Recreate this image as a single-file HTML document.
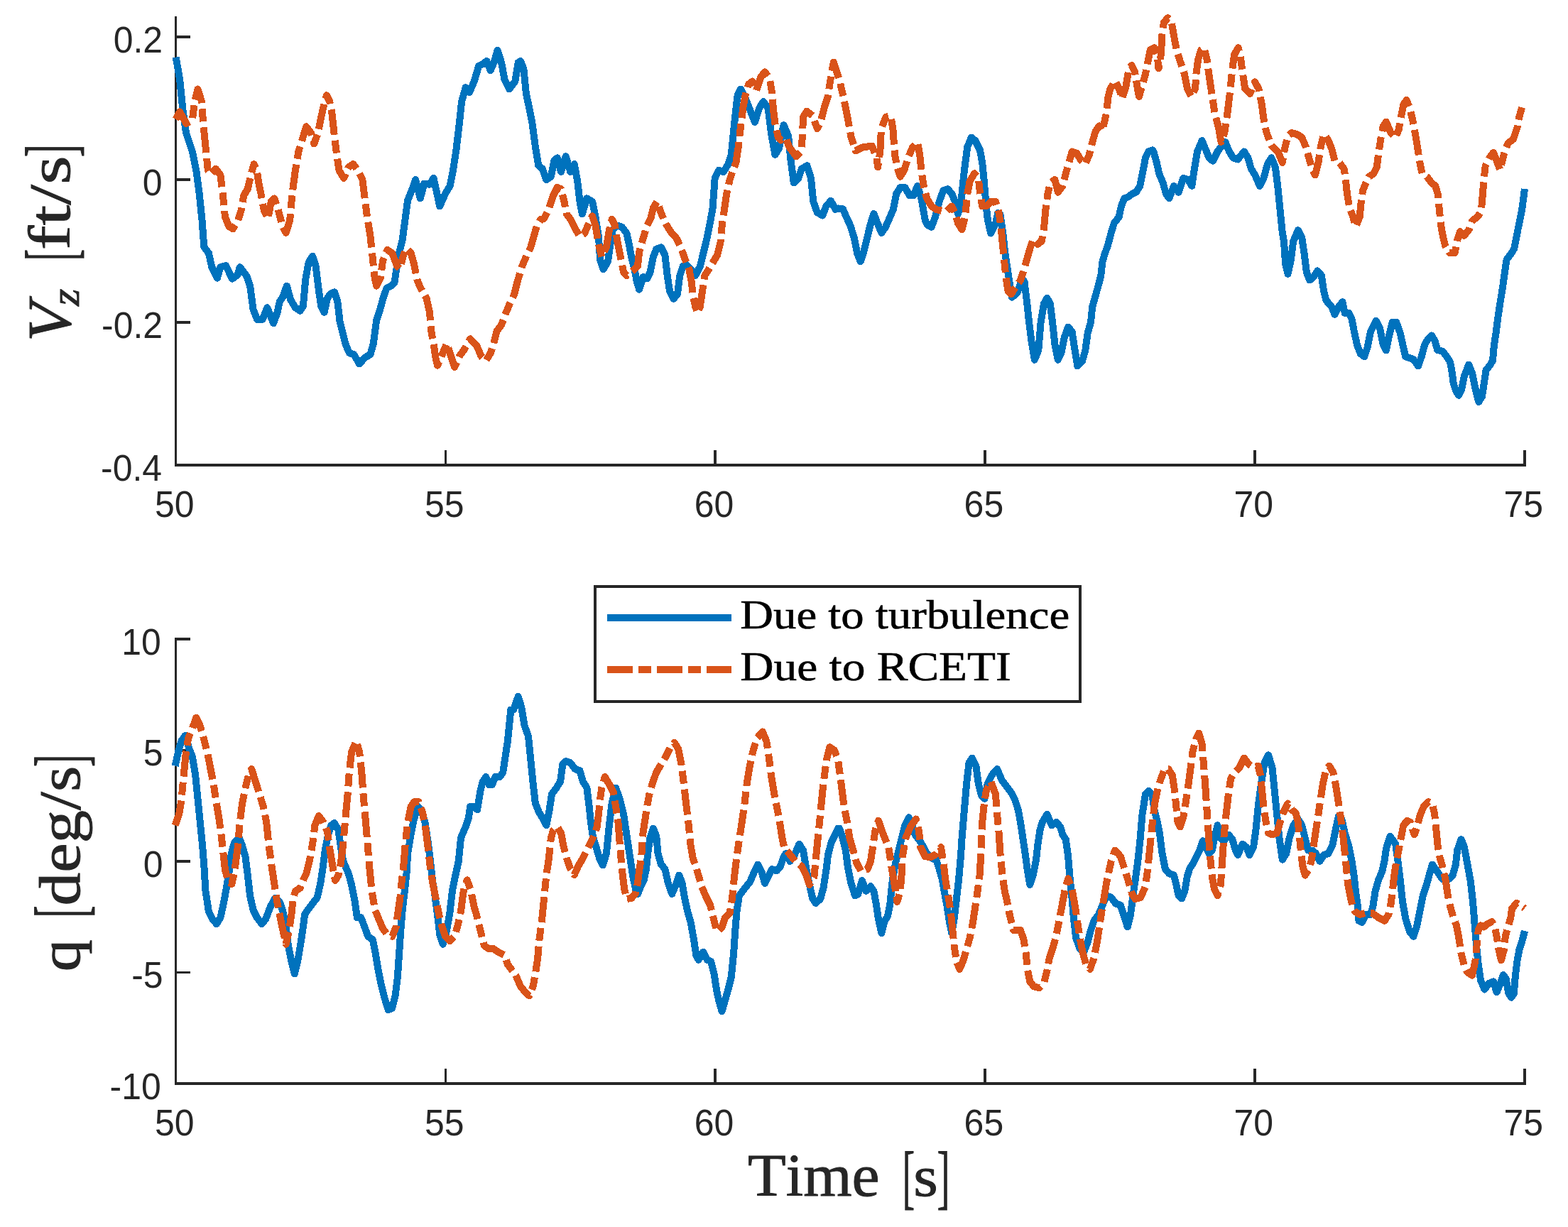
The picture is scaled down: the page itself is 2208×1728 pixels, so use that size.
<!DOCTYPE html><html><head><meta charset="utf-8"><style>html,body{margin:0;padding:0;background:#fff;}svg{display:block;}</style></head><body><svg xmlns="http://www.w3.org/2000/svg" width="2208" height="1728" viewBox="0 0 2208 1728" style="font-kerning:none">
<rect width="2208" height="1728" fill="#fff"/>
<path d="M247.5 23.1V657.0" stroke="#262626" stroke-width="3" shape-rendering="crispEdges"/>
<path d="M246.0 655.0H2148.9" stroke="#262626" stroke-width="4" shape-rendering="crispEdges"/>
<path d="M627.4 655.0V634.0M1007.3 655.0V634.0M1387.2 655.0V634.0M1767.1 655.0V634.0M2147.0 655.0V634.0M247.5 52.0H268.0M247.5 253.0H268.0M247.5 454.0H268.0M247.5 655.0H268.0" stroke="#262626" stroke-width="3.8" shape-rendering="crispEdges"/>
<path d="M247.5 898.2V1528.0" stroke="#262626" stroke-width="3" shape-rendering="crispEdges"/>
<path d="M246.0 1526.0H2148.9" stroke="#262626" stroke-width="4" shape-rendering="crispEdges"/>
<path d="M627.4 1526.0V1505.0M1007.3 1526.0V1505.0M1387.2 1526.0V1505.0M1767.1 1526.0V1505.0M2147.0 1526.0V1505.0M247.5 900.1H268.0M247.5 1056.6H268.0M247.5 1213.0H268.0M247.5 1369.5H268.0M247.5 1526.0H268.0" stroke="#262626" stroke-width="3.8" shape-rendering="crispEdges"/>
<g fill="none" stroke-linejoin="round" stroke-width="10" shape-rendering="crispEdges">
<path d="M247.7 80.5L253.2 112.3L257.6 156.3L262.0 187.1L270.8 213.5L276.3 239.9L280.7 272.9L284.5 310.0L287.3 347.6L293.9 356.4L298.3 376.2L306.0 391.6L310.4 376.2L318.1 374.0L326.9 392.7L334.5 387.2L337.8 376.2L347.7 389.4L352.1 402.6L356.5 435.5L362.0 449.8L369.7 449.8L376.3 433.3L385.1 455.3L390.6 439.9L393.9 424.5L398.3 418.0L403.8 402.6L409.3 422.3L415.9 433.3L422.5 437.7L426.9 431.1L430.2 393.8L434.6 369.6L440.1 360.8L444.5 374.0L448.9 409.2L452.2 431.1L456.6 439.9L461.0 420.2L465.4 413.6L470.9 411.4L475.3 424.5L478.6 453.1L481.9 466.3L486.3 483.9L491.8 497.1L498.4 499.3L506.1 512.5L513.7 503.7L521.4 499.3L525.8 483.9L530.2 450.9L534.6 437.7L540.1 418.0L544.5 405.9L551.1 402.6L555.5 398.2L557.7 382.8L562.1 356.4L566.5 338.8L574.2 281.7L579.7 268.5L585.2 253.1L591.8 279.4L597.3 258.6L605.0 259.7L610.5 250.9L619.3 290.5L627.0 272.9L633.6 261.9L638.0 239.9L642.4 211.3L646.8 173.9L650.1 143.1L655.6 123.3L661.1 129.9L667.7 114.5L674.3 92.6L679.8 90.4L685.3 86.0L690.8 99.2L696.3 86.0L700.6 70.6L706.1 88.2L710.5 112.3L717.1 125.5L725.3 114.5L729.7 88.2L733.0 86.0L737.4 97.0L740.7 130.0L745.1 151.9L749.5 173.9L753.9 206.9L758.3 233.3L763.8 237.7L769.3 253.1L775.9 248.7L780.3 226.7L784.7 222.3L790.1 242.1L796.7 220.1L803.3 242.1L808.8 231.1L813.2 255.3L816.5 283.9L819.8 301.4L826.4 279.4L834.1 283.9L838.5 305.8L842.9 333.0L845.1 366.0L849.5 379.2L856.1 368.2L859.4 344.0L862.7 324.2L869.3 317.6L875.9 319.8L882.5 328.6L885.8 344.0L889.1 361.6L893.5 379.2L896.8 396.7L900.1 407.7L905.6 390.1L911.1 392.3L915.5 383.6L919.9 361.6L924.3 350.6L930.9 348.4L936.4 359.4L939.7 387.9L943.0 409.9L948.5 420.9L954.0 414.3L957.3 388.0L961.7 374.8L966.1 372.6L972.6 379.2L979.2 388.0L986.0 374.8L990.2 357.2L994.6 339.6L999.0 318.0L1003.4 295.0L1006.7 250.9L1012.2 239.9L1018.8 242.1L1025.4 231.1L1029.8 217.9L1032.0 195.9L1035.3 162.9L1038.6 134.3L1043.0 125.5L1049.6 138.7L1055.1 151.9L1062.8 171.9L1069.4 151.9L1074.9 143.1L1081.5 151.9L1085.9 187.1L1091.4 217.9L1096.9 209.1L1103.5 176.1L1110.1 191.5L1113.4 224.5L1117.8 257.5L1124.4 250.9L1128.8 237.7L1136.5 233.3L1142.0 250.9L1145.3 283.9L1150.7 299.2L1158.4 303.6L1163.3 290.4L1169.9 282.8L1176.5 294.9L1180.5 293.5L1186.9 294.3L1191.8 305.7L1197.4 317.6L1202.9 335.2L1207.3 357.2L1211.7 368.2L1216.1 355.0L1220.5 337.4L1226.0 315.0L1230.4 301.0L1235.9 315.0L1241.4 328.0L1246.9 320.0L1252.3 308.0L1257.8 294.9L1262.2 272.9L1267.7 264.1L1274.3 264.1L1280.9 275.1L1286.4 275.1L1291.9 261.9L1297.4 279.4L1302.9 311.0L1306.2 316.8L1311.7 319.8L1317.2 305.0L1322.7 283.9L1328.2 268.5L1334.8 266.3L1340.3 272.9L1344.7 283.9L1349.1 301.4L1353.5 283.9L1357.9 239.9L1362.3 206.9L1367.8 193.7L1373.3 198.1L1379.9 211.3L1383.2 228.9L1385.4 250.9L1388.7 290.0L1390.9 310.0L1395.3 328.6L1401.9 315.0L1405.2 300.0L1408.5 302.2L1412.9 333.0L1415.1 355.0L1418.4 377.0L1421.7 398.9L1425.0 418.7L1432.7 412.1L1439.2 392.3L1442.5 396.7L1445.8 423.1L1449.1 453.9L1452.4 480.3L1456.8 506.7L1462.3 493.5L1465.6 453.9L1470.0 427.5L1474.4 419.8L1478.8 427.5L1482.1 453.9L1485.4 484.7L1489.8 506.7L1494.2 497.9L1498.6 475.9L1504.1 460.5L1509.6 467.1L1512.9 489.1L1517.3 515.5L1523.9 508.9L1528.3 493.5L1531.6 469.3L1536.0 453.9L1538.2 431.9L1542.6 416.5L1547.0 401.1L1550.3 388.0L1552.5 368.2L1555.8 357.2L1560.2 345.0L1564.6 328.0L1569.0 314.0L1575.6 305.8L1578.9 290.4L1583.3 279.4L1588.8 277.3L1594.3 272.9L1599.8 270.7L1605.3 261.9L1609.7 239.9L1613.0 222.3L1617.3 213.5L1622.9 211.3L1624.4 213.5L1628.8 228.9L1632.1 244.3L1637.6 257.5L1642.0 272.9L1646.4 279.4L1653.0 261.9L1659.6 270.7L1666.2 250.9L1672.8 253.1L1678.3 261.9L1681.6 239.9L1686.0 213.5L1692.6 198.1L1698.1 211.3L1702.5 222.3L1708.0 226.7L1714.5 213.5L1721.1 204.7L1725.5 200.3L1731.0 213.5L1736.5 222.3L1743.1 224.5L1751.9 213.5L1757.4 222.3L1761.8 237.7L1767.3 246.5L1773.9 261.9L1779.4 250.9L1784.9 231.1L1790.4 222.3L1795.9 235.5L1799.2 261.9L1802.5 294.9L1805.8 327.8L1808.0 340.0L1810.2 372.6L1813.5 385.8L1817.9 366.0L1821.2 339.6L1827.8 324.2L1833.3 335.2L1836.6 357.2L1839.9 383.6L1844.3 394.5L1849.8 390.1L1855.3 381.4L1860.8 388.0L1864.1 409.9L1867.4 423.1L1875.1 431.9L1879.5 442.9L1885.0 431.9L1890.4 425.3L1893.7 440.7L1899.2 440.7L1903.6 449.5L1906.9 467.1L1911.3 486.9L1915.7 497.9L1921.2 502.3L1925.6 489.1L1930.0 467.1L1937.7 451.7L1943.2 462.7L1947.6 484.7L1952.0 493.5L1956.4 471.5L1960.8 453.9L1966.3 453.9L1971.8 469.3L1975.0 484.0L1979.2 502.3L1984.9 504.2L1990.5 506.1L1997.0 515.5L2001.7 502.3L2005.5 487.4L2009.2 479.9L2015.8 472.4L2020.5 479.9L2024.2 493.0L2031.7 494.8L2037.3 502.3L2042.0 509.8L2044.8 524.8L2046.7 539.8L2050.4 551.1L2054.2 556.7L2057.9 549.2L2061.7 530.4L2068.2 513.6L2072.9 524.8L2076.7 543.6L2082.3 566.0L2087.0 558.5L2089.8 539.8L2092.6 521.1L2097.3 515.5L2102.0 508.0L2103.8 487.4L2106.6 468.6L2109.5 446.1L2112.3 427.4L2116.0 404.9L2118.8 384.3L2121.6 365.6L2127.3 358.1L2132.0 350.6L2134.7 337.5L2137.6 322.5L2140.4 309.4L2143.2 295.0L2147.0 266.0" stroke="#0072BD"/><path d="M247.5 168.0L253.2 157.4L262.0 173.9L270.8 169.5L274.1 143.1L278.5 125.5L284.0 143.1L286.2 173.9L289.5 206.9L292.8 239.9L297.2 245.4L303.8 237.7L310.4 246.5L313.7 272.9L317.0 305.8L322.5 319.0L327.9 322.3L334.5 312.4L340.0 294.9L343.3 275.1L348.8 266.3L353.2 246.5L357.6 231.1L362.0 242.1L364.2 257.5L367.5 272.9L371.9 297.0L377.4 308.0L381.8 283.9L386.2 279.4L391.7 294.9L397.2 316.8L402.7 327.8L408.2 310.2L411.5 272.9L415.9 239.9L420.3 213.5L425.8 195.9L431.3 178.3L437.9 187.1L442.3 202.5L447.8 187.1L452.2 165.1L456.6 145.3L459.9 134.3L464.3 143.1L467.6 160.7L470.9 191.5L474.2 217.9L477.5 239.9L484.1 250.9L490.7 235.5L497.3 231.1L503.9 239.9L510.4 253.1L513.7 279.4L517.0 305.8L521.4 332.2L523.6 352.0L525.8 374.0L528.0 393.8L530.2 402.6L535.7 391.6L539.0 367.4L545.6 352.0L552.2 356.4L558.8 374.0L563.2 378.4L567.6 360.8L572.0 349.8L578.6 356.4L583.0 371.8L587.4 393.8L591.8 404.8L600.6 420.2L605.0 439.9L607.2 466.3L610.5 483.9L613.8 505.9L616.0 514.7L622.6 499.3L629.2 483.9L633.6 497.1L640.2 516.9L646.8 501.5L653.4 492.7L662.2 477.3L671.0 486.1L677.5 501.5L684.2 508.1L690.8 497.1L695.1 483.9L699.5 466.3L706.1 457.5L712.7 439.9L718.2 426.7L724.2 414.3L728.6 396.7L735.2 374.8L741.8 359.4L747.3 348.4L751.7 333.0L756.1 317.6L761.6 308.8L766.0 308.0L772.6 294.9L779.2 275.1L784.7 264.1L790.1 266.3L794.5 283.9L797.8 301.4L803.3 308.8L809.9 322.0L816.5 333.0L823.1 328.6L829.7 313.2L834.1 304.4L838.5 317.6L842.9 344.0L847.3 361.6L853.9 348.4L858.3 322.0L861.6 308.8L866.0 317.6L869.3 339.6L873.7 361.6L878.1 383.6L882.5 388.0L891.3 381.4L897.9 374.8L900.1 355.0L904.5 339.6L911.1 317.6L916.6 306.6L919.9 292.6L925.4 283.9L930.9 300.0L937.5 315.0L944.1 326.0L952.9 336.0L959.5 350.6L965.0 366.0L970.4 379.2L973.7 396.7L975.9 416.5L979.2 431.9L982.5 440.7L985.8 431.9L989.1 409.9L992.4 388.0L996.8 381.4L1003.4 370.4L1010.0 359.4L1014.4 342.0L1017.0 315.0L1020.0 295.0L1023.2 272.9L1027.6 253.1L1032.0 239.9L1036.4 228.9L1039.7 206.9L1043.0 178.3L1046.3 151.9L1049.6 134.3L1054.0 118.9L1059.5 114.5L1065.0 127.7L1071.6 108.0L1077.1 101.4L1083.7 110.2L1087.0 129.9L1089.2 156.3L1091.4 173.9L1095.8 193.7L1100.0 197.5L1106.6 194.3L1111.5 207.4L1121.3 220.5L1127.9 213.9L1129.5 197.5L1131.1 164.8L1136.1 156.6L1144.3 163.1L1150.8 181.1L1155.7 171.3L1160.7 151.6L1165.6 136.9L1168.9 115.6L1173.8 87.5L1182.0 112.3L1188.5 140.2L1193.4 164.8L1198.4 192.6L1204.9 212.3L1214.8 207.4L1227.9 205.7L1234.4 222.1L1236.1 235.2L1239.3 213.9L1241.0 181.1L1247.5 164.8L1254.1 163.1L1257.4 181.1L1260.0 217.9L1263.3 235.5L1267.7 248.7L1273.2 239.9L1278.7 222.3L1285.3 206.9L1291.9 200.3L1295.2 217.9L1297.4 239.9L1300.7 261.9L1305.1 279.4L1311.7 290.4L1318.3 294.9L1327.1 297.0L1333.7 297.0L1340.3 290.4L1344.7 299.2L1349.1 314.6L1354.6 323.4L1359.0 305.8L1362.3 272.9L1365.6 255.3L1372.2 244.3L1377.7 250.9L1379.9 270.7L1383.2 290.4L1388.7 290.4L1395.3 283.9L1401.9 283.9L1406.3 298.0L1409.6 320.0L1411.8 344.0L1414.0 366.0L1416.2 388.0L1419.5 409.9L1423.9 414.3L1430.6 403.3L1437.0 394.5L1441.5 381.4L1445.8 366.0L1450.2 350.6L1454.6 337.4L1461.2 344.0L1466.7 339.6L1470.0 322.0L1472.2 297.0L1475.5 272.9L1478.8 257.5L1485.4 253.1L1489.8 270.7L1496.4 261.9L1500.8 244.3L1505.2 228.9L1509.6 213.5L1516.2 215.7L1522.8 226.7L1528.3 231.1L1533.8 217.9L1538.2 200.3L1542.6 184.9L1547.0 178.3L1548.3 177.3L1552.4 184.2L1557.9 159.4L1560.6 136.0L1563.4 125.0L1570.3 114.0L1575.8 125.0L1579.9 138.8L1585.4 122.3L1589.5 97.5L1593.6 92.0L1597.8 100.3L1601.9 125.0L1604.0 136.0L1608.8 119.5L1612.9 104.4L1617.0 83.8L1619.8 70.0L1625.3 67.3L1629.4 76.9L1631.5 96.2L1634.9 76.9L1636.3 49.4L1639.0 31.5L1644.5 25.3L1650.0 32.9L1652.8 49.4L1656.9 70.0L1661.0 83.8L1667.9 104.4L1672.0 125.0L1677.6 136.0L1683.1 125.0L1684.4 104.4L1687.2 83.8L1691.3 70.0L1695.4 67.3L1699.6 83.8L1702.3 104.4L1706.4 131.9L1710.6 159.4L1716.1 180.1L1719.5 200.0L1724.3 186.9L1728.4 159.4L1732.6 125.0L1735.3 97.5L1738.1 76.9L1743.6 67.3L1746.3 76.9L1749.1 97.5L1753.2 125.0L1760.1 131.9L1767.0 115.4L1772.5 125.0L1776.6 145.7L1779.3 166.3L1783.5 186.9L1790.3 204.8L1800.0 214.4L1805.8 228.9L1809.1 209.1L1813.5 191.5L1819.0 187.1L1826.7 189.3L1833.3 193.7L1838.8 206.9L1843.2 222.3L1847.6 237.7L1852.0 246.5L1856.4 228.9L1859.7 206.9L1864.1 189.3L1869.6 195.9L1875.1 209.1L1879.5 226.7L1886.1 228.9L1892.6 237.7L1894.9 253.1L1897.0 272.9L1900.3 292.6L1904.7 303.6L1909.1 319.0L1914.6 305.8L1916.8 283.9L1919.0 268.5L1923.4 257.5L1927.8 248.7L1934.4 244.3L1938.8 235.5L1941.0 217.9L1944.3 195.9L1947.6 178.3L1952.0 171.7L1958.6 187.1L1965.2 193.7L1969.6 182.7L1972.9 165.1L1976.2 147.5L1980.6 140.9L1985.0 151.9L1989.4 169.5L1992.7 187.1L1996.0 206.9L1999.3 228.9L2002.6 244.3L2009.2 248.7L2015.8 257.5L2021.3 261.9L2024.6 272.9L2026.8 294.9L2029.0 316.8L2032.0 333.7L2035.4 346.8L2041.1 356.2L2048.6 356.2L2052.3 337.5L2056.1 326.2L2061.7 331.8L2069.2 322.5L2072.9 311.2L2080.4 305.6L2084.2 300.0L2086.0 295.4L2087.9 272.9L2089.8 250.4L2091.7 233.6L2097.3 222.3L2102.9 214.9L2107.0 225.0L2112.3 239.2L2117.9 216.7L2123.5 201.7L2131.0 196.1L2136.6 179.3L2139.4 164.3L2143.2 151.1L2147.0 154.0" stroke="#D95319" stroke-dasharray="36 8 18 8"/>
<path d="M246.6 1078.7L251.0 1058.9L255.4 1043.6L260.9 1035.9L266.4 1054.5L270.8 1065.5L275.2 1091.9L278.5 1124.9L281.8 1157.9L285.1 1190.9L287.5 1222.0L289.5 1255.0L293.9 1283.6L299.4 1294.5L304.9 1301.1L310.4 1292.3L314.8 1272.6L319.2 1248.4L323.6 1222.0L325.8 1201.9L330.1 1186.5L336.7 1179.9L341.1 1190.9L345.5 1206.3L348.5 1230.0L352.1 1261.6L356.5 1281.4L362.0 1292.3L368.6 1301.1L374.1 1294.5L380.7 1277.0L387.3 1264.9L393.9 1270.4L398.3 1283.6L402.7 1305.5L406.0 1331.9L410.4 1353.9L414.8 1371.5L419.2 1353.9L423.6 1327.5L426.9 1305.5L429.1 1288.0L433.5 1281.4L440.1 1272.6L446.7 1264.0L451.1 1245.0L454.4 1223.9L457.7 1197.5L462.1 1175.5L466.5 1162.3L470.9 1159.0L476.4 1168.9L479.7 1190.9L483.0 1212.0L490.7 1230.0L495.1 1246.0L499.5 1268.0L502.8 1292.3L508.3 1292.3L512.6 1303.3L518.2 1318.7L524.7 1323.1L528.0 1338.5L532.4 1364.9L536.8 1386.9L541.2 1404.5L546.7 1422.1L552.2 1419.9L556.6 1402.3L559.9 1375.9L562.1 1342.9L564.3 1309.9L566.5 1283.6L569.8 1255.0L572.5 1230.0L574.2 1201.9L578.6 1175.5L583.0 1153.5L588.5 1135.9L594.0 1142.5L598.4 1157.9L602.8 1186.5L606.1 1212.9L609.0 1240.0L611.6 1255.0L616.0 1288.0L619.3 1316.5L623.7 1329.7L629.2 1309.9L633.6 1283.6L636.9 1255.0L641.3 1233.0L645.7 1213.2L649.0 1180.0L655.6 1164.5L660.0 1151.3L662.2 1135.9L667.7 1135.9L672.1 1140.3L676.5 1113.9L679.8 1100.7L684.2 1094.1L688.6 1105.1L693.0 1105.1L697.3 1094.1L703.9 1094.1L708.3 1087.5L711.6 1065.5L714.9 1043.6L717.1 1021.6L719.3 999.6L723.1 999.6L729.7 980.9L734.1 995.2L738.5 1021.6L744.0 1037.0L747.3 1069.9L750.6 1102.9L753.9 1131.5L759.4 1144.7L764.9 1153.5L769.3 1162.3L773.7 1140.3L777.0 1118.3L783.6 1109.5L789.1 1100.7L792.3 1076.5L796.7 1072.1L803.3 1074.3L809.9 1083.1L816.5 1085.3L820.9 1100.7L826.4 1109.5L829.7 1135.9L831.9 1157.9L835.2 1179.9L839.6 1193.1L844.0 1208.5L849.0 1218.5L853.9 1201.9L857.2 1168.9L861.6 1131.5L867.1 1109.5L872.6 1124.9L878.1 1146.9L881.4 1168.9L884.7 1190.9L888.0 1212.9L891.3 1234.9L895.7 1254.6L898.0 1259.0L903.4 1245.8L906.7 1239.2L910.0 1223.9L912.2 1201.9L915.5 1179.9L919.9 1166.7L924.3 1177.7L926.5 1201.9L930.9 1217.3L936.4 1223.9L940.8 1243.6L946.3 1259.0L951.8 1245.8L956.2 1232.6L960.6 1243.6L963.9 1264.0L968.3 1283.6L972.6 1298.9L977.0 1323.1L980.3 1345.1L983.6 1351.7L990.2 1340.7L995.7 1351.7L1001.2 1353.9L1005.6 1371.5L1008.9 1393.5L1012.2 1408.9L1016.6 1424.3L1021.0 1408.9L1025.4 1393.5L1029.8 1375.9L1033.1 1342.9L1035.3 1309.9L1037.5 1283.6L1040.8 1261.6L1047.4 1252.8L1056.2 1241.8L1062.8 1226.4L1067.2 1217.6L1072.7 1228.6L1077.1 1244.0L1082.6 1233.0L1087.0 1224.2L1093.6 1226.4L1099.1 1219.8L1103.5 1206.6L1106.8 1201.9L1112.3 1212.9L1117.8 1206.3L1125.4 1188.7L1131.0 1197.5L1135.4 1223.9L1139.8 1245.8L1144.2 1265.0L1148.6 1272.0L1155.2 1266.0L1159.5 1250.6L1163.9 1222.0L1166.0 1204.0L1170.5 1186.5L1176.0 1175.5L1180.0 1166.7L1182.0 1166.7L1186.4 1179.9L1190.8 1197.5L1194.0 1222.0L1198.5 1244.0L1204.0 1261.4L1208.4 1259.2L1213.9 1240.0L1219.4 1254.8L1226.0 1248.2L1230.4 1255.0L1233.7 1272.6L1237.0 1294.5L1241.4 1314.3L1245.8 1296.7L1250.1 1290.1L1253.4 1272.6L1256.7 1240.0L1261.1 1215.0L1265.5 1197.5L1269.9 1179.9L1274.3 1162.3L1279.8 1151.3L1284.2 1162.3L1288.6 1175.5L1295.2 1184.3L1300.7 1193.1L1305.1 1201.9L1311.7 1208.5L1318.3 1211.0L1322.7 1224.0L1327.1 1239.6L1330.4 1259.4L1333.7 1277.0L1337.0 1298.9L1340.3 1314.3L1343.6 1294.5L1346.9 1266.0L1350.2 1237.4L1353.0 1205.0L1354.6 1179.9L1357.9 1140.3L1361.2 1102.9L1364.5 1074.3L1368.9 1067.7L1374.4 1078.7L1377.7 1102.9L1382.1 1120.5L1386.5 1124.9L1390.9 1102.9L1396.4 1091.9L1404.1 1083.1L1410.7 1098.5L1417.3 1107.3L1423.9 1116.1L1429.4 1127.1L1433.7 1140.3L1437.0 1157.9L1440.3 1179.9L1443.6 1201.9L1446.9 1226.0L1450.2 1246.0L1454.6 1233.0L1459.0 1211.0L1461.2 1190.9L1464.5 1168.9L1467.8 1157.9L1474.4 1146.9L1481.0 1162.3L1487.6 1157.9L1493.1 1164.5L1496.4 1175.5L1500.8 1182.1L1504.0 1205.0L1506.3 1233.0L1509.6 1266.0L1511.8 1292.3L1515.1 1320.9L1520.6 1336.3L1526.1 1340.7L1531.6 1327.5L1536.0 1309.9L1540.4 1296.7L1547.0 1288.0L1552.5 1274.8L1558.0 1261.6L1564.6 1263.8L1571.2 1272.6L1577.8 1274.8L1582.2 1288.0L1587.7 1305.5L1592.0 1288.0L1595.4 1261.6L1598.6 1239.6L1602.0 1215.0L1605.3 1185.0L1608.5 1146.9L1613.0 1118.3L1617.3 1113.9L1622.2 1118.3L1625.5 1140.3L1629.9 1157.9L1633.2 1175.5L1636.5 1201.9L1640.9 1223.9L1646.4 1230.4L1653.0 1232.6L1656.3 1245.8L1659.6 1261.2L1664.0 1265.6L1668.4 1254.6L1671.7 1234.9L1675.0 1223.9L1680.5 1215.1L1684.9 1206.3L1689.3 1197.5L1693.7 1184.3L1698.1 1193.1L1702.5 1201.9L1706.9 1197.5L1710.1 1179.9L1714.5 1162.3L1718.9 1179.9L1723.3 1184.3L1729.9 1175.5L1735.4 1182.1L1739.8 1197.5L1743.1 1204.1L1749.7 1188.7L1755.2 1193.1L1759.6 1204.1L1765.1 1193.1L1768.4 1168.9L1771.7 1135.9L1776.1 1102.9L1780.5 1074.3L1786.0 1063.3L1791.5 1080.9L1794.8 1113.9L1798.1 1146.9L1801.4 1179.9L1805.8 1210.7L1811.3 1201.9L1815.7 1179.9L1821.2 1162.3L1827.8 1153.5L1833.3 1162.3L1837.7 1179.9L1842.1 1197.5L1847.6 1197.5L1853.1 1201.9L1858.6 1212.9L1864.1 1204.1L1870.7 1201.9L1876.2 1190.9L1880.6 1168.9L1885.0 1149.1L1889.4 1153.5L1893.7 1173.3L1899.2 1190.9L1903.6 1212.9L1906.9 1234.9L1909.1 1256.8L1912.4 1280.0L1913.5 1296.7L1917.9 1298.9L1923.4 1288.0L1930.0 1288.0L1933.3 1277.0L1936.6 1255.0L1941.0 1239.6L1946.5 1226.4L1949.8 1211.0L1952.0 1195.0L1957.5 1177.7L1965.2 1188.7L1968.5 1212.9L1971.8 1240.0L1975.1 1270.4L1979.5 1294.5L1985.0 1312.1L1990.5 1318.7L1994.9 1305.5L1999.3 1283.6L2003.7 1261.6L2009.2 1245.0L2013.6 1228.6L2017.0 1217.5L2024.6 1228.4L2031.2 1238.0L2038.9 1239.0L2045.5 1233.0L2049.9 1217.6L2052.1 1197.5L2057.6 1182.1L2062.0 1193.1L2066.4 1217.3L2070.8 1241.4L2074.0 1270.0L2077.3 1309.9L2079.5 1336.3L2081.7 1358.3L2085.0 1380.3L2090.5 1393.5L2097.1 1384.7L2102.9 1382.3L2107.6 1397.3L2112.3 1386.1L2116.9 1373.0L2120.7 1378.6L2124.4 1399.2L2128.2 1404.8L2131.9 1399.2L2133.8 1374.8L2136.6 1352.3L2139.4 1337.4L2143.2 1326.1L2147.0 1311.0" stroke="#0072BD"/><path d="M246.6 1162.3L252.1 1146.9L255.4 1127.1L257.6 1102.9L259.8 1080.9L262.0 1058.9L265.3 1039.2L270.8 1026.0L276.3 1010.6L280.7 1019.4L286.2 1037.0L291.7 1058.9L296.1 1080.9L300.5 1102.9L303.8 1124.9L308.2 1151.3L311.5 1175.5L314.8 1205.0L317.0 1225.0L321.4 1241.6L326.4 1245.0L330.1 1228.0L334.5 1195.0L337.8 1157.9L341.1 1131.5L345.5 1109.5L349.9 1091.9L354.3 1083.1L359.8 1100.7L365.3 1118.3L370.8 1135.9L375.2 1157.9L378.5 1190.0L382.9 1222.0L386.2 1244.0L389.5 1266.0L393.9 1288.0L398.3 1309.9L402.7 1329.7L407.1 1309.9L410.4 1288.0L412.6 1266.0L415.9 1255.0L422.5 1250.6L426.9 1239.6L431.3 1230.4L435.7 1212.9L440.1 1188.7L443.4 1162.3L448.9 1149.1L455.5 1157.9L461.0 1171.1L464.3 1195.0L468.7 1222.0L472.0 1240.0L476.4 1233.0L479.7 1217.0L483.0 1190.9L486.3 1153.5L489.6 1118.3L491.8 1087.5L495.1 1058.9L501.7 1043.6L506.1 1058.9L509.3 1087.5L511.5 1118.3L515.0 1157.9L518.1 1195.0L520.3 1222.0L523.6 1255.0L528.0 1281.4L533.5 1294.5L539.0 1307.7L545.6 1316.5L552.2 1318.7L557.7 1305.5L559.9 1288.0L563.2 1266.0L565.4 1244.0L568.7 1215.0L570.9 1186.5L574.2 1157.9L578.6 1135.9L583.0 1129.3L589.6 1129.3L595.1 1144.7L599.6 1168.9L602.8 1195.3L606.1 1223.9L609.4 1244.0L613.8 1266.0L618.2 1288.0L622.6 1305.5L627.0 1318.7L633.6 1325.3L640.2 1318.7L644.6 1303.3L649.0 1283.6L651.2 1266.0L653.4 1250.6L657.8 1239.4L663.3 1255.0L667.7 1277.0L672.1 1292.3L677.5 1314.3L682.0 1331.9L688.6 1336.3L695.1 1336.3L701.7 1340.7L710.5 1345.1L714.9 1358.3L720.0 1364.9L726.4 1373.7L733.0 1389.1L738.5 1395.7L745.1 1402.3L750.6 1389.1L753.9 1371.5L757.2 1349.5L759.4 1323.1L762.7 1298.9L764.9 1277.0L767.1 1255.0L769.3 1233.0L772.6 1211.0L775.9 1179.9L779.2 1168.9L784.7 1164.5L790.1 1173.3L793.4 1190.9L797.8 1208.5L803.3 1224.0L808.8 1232.0L814.3 1219.5L820.9 1208.5L828.6 1193.1L835.2 1179.9L840.7 1164.5L842.9 1146.9L845.1 1124.9L847.3 1109.5L851.7 1094.1L858.3 1105.1L863.8 1116.1L867.1 1135.9L870.4 1157.9L873.7 1200.0L876.5 1230.0L879.2 1252.4L882.5 1266.0L889.1 1265.0L894.6 1259.0L897.9 1244.0L900.1 1226.4L903.4 1205.0L904.5 1179.9L907.8 1157.9L911.1 1135.9L914.4 1118.3L918.8 1102.9L924.3 1087.5L930.9 1076.5L937.5 1065.5L944.1 1052.3L949.6 1045.8L955.1 1054.5L959.5 1076.5L962.8 1102.9L966.1 1131.5L969.3 1157.9L972.6 1190.9L976.0 1210.0L979.2 1217.6L983.6 1233.0L988.0 1248.4L994.6 1263.8L1000.1 1274.8L1003.4 1288.0L1006.7 1301.1L1010.0 1312.1L1016.6 1305.5L1021.0 1292.3L1027.6 1285.8L1030.9 1266.0L1033.1 1244.0L1035.3 1223.9L1039.7 1190.9L1044.1 1162.3L1048.5 1131.5L1051.8 1102.9L1056.2 1076.5L1060.6 1056.7L1066.1 1039.2L1073.8 1030.4L1079.3 1043.6L1082.6 1065.5L1085.9 1091.9L1090.3 1118.3L1094.7 1140.3L1098.0 1157.9L1101.3 1179.9L1104.6 1195.0L1111.2 1202.0L1120.0 1213.0L1128.8 1219.8L1135.4 1233.0L1139.8 1246.0L1146.4 1234.9L1149.6 1201.9L1152.9 1168.9L1156.2 1135.9L1159.5 1102.9L1163.9 1069.9L1168.3 1052.3L1174.9 1056.7L1180.0 1069.9L1185.3 1109.5L1188.6 1135.9L1193.0 1157.9L1196.3 1179.9L1201.8 1199.0L1206.2 1215.0L1212.8 1227.5L1221.6 1224.0L1226.0 1212.9L1229.3 1190.9L1232.6 1168.9L1237.0 1155.7L1241.4 1168.9L1245.8 1179.9L1251.2 1193.1L1254.5 1215.0L1257.8 1235.0L1261.1 1255.0L1263.3 1270.0L1267.7 1255.0L1269.9 1228.6L1271.0 1205.0L1275.4 1179.9L1282.0 1164.5L1289.7 1153.5L1294.1 1171.1L1296.3 1193.1L1302.9 1206.3L1310.6 1207.0L1318.3 1203.0L1324.9 1193.1L1328.2 1212.9L1331.5 1240.0L1335.9 1266.0L1339.2 1288.0L1341.4 1309.9L1343.6 1331.9L1346.9 1353.9L1351.3 1364.9L1356.8 1351.7L1361.2 1336.3L1365.6 1320.9L1370.0 1298.9L1373.3 1277.0L1376.6 1255.0L1379.9 1230.0L1383.2 1157.9L1385.4 1135.9L1388.7 1113.9L1395.3 1100.7L1401.9 1118.3L1404.1 1146.9L1406.3 1168.9L1408.5 1201.9L1411.8 1234.9L1415.1 1256.8L1417.3 1265.0L1421.7 1288.0L1427.1 1309.9L1437.0 1309.9L1441.5 1323.1L1444.7 1342.9L1446.9 1364.9L1450.2 1382.5L1455.7 1389.1L1463.4 1391.3L1470.0 1384.7L1474.4 1367.1L1477.7 1349.5L1482.1 1336.3L1486.5 1320.9L1489.8 1305.5L1493.1 1288.0L1496.4 1270.4L1499.7 1252.8L1504.1 1237.4L1509.6 1252.8L1514.0 1277.0L1517.3 1298.9L1520.6 1320.9L1525.0 1342.9L1529.4 1358.3L1534.9 1364.9L1540.4 1349.5L1544.8 1327.5L1548.1 1305.5L1551.4 1283.6L1554.7 1263.8L1558.0 1244.0L1561.3 1228.6L1564.6 1212.9L1570.1 1197.5L1577.8 1206.0L1584.4 1226.4L1589.9 1244.0L1594.3 1259.4L1598.7 1266.0L1606.4 1263.8L1613.0 1248.0L1616.2 1223.9L1619.5 1190.9L1622.9 1157.9L1626.1 1131.5L1630.5 1109.5L1634.9 1096.3L1640.0 1083.1L1645.3 1083.1L1650.8 1091.9L1654.1 1113.9L1656.3 1135.9L1658.5 1157.9L1661.8 1164.5L1666.2 1151.3L1669.5 1131.5L1672.8 1109.5L1676.1 1085.3L1679.4 1058.9L1683.8 1041.4L1688.2 1032.6L1692.6 1048.0L1694.8 1074.3L1697.0 1102.9L1699.2 1135.9L1701.4 1168.9L1703.6 1201.9L1706.9 1234.9L1710.1 1252.4L1714.5 1261.2L1718.9 1245.8L1721.1 1212.9L1723.3 1179.9L1726.6 1146.9L1729.9 1118.3L1733.2 1096.3L1738.7 1087.5L1745.3 1080.9L1751.9 1067.7L1758.5 1076.5L1765.1 1080.9L1771.7 1078.7L1775.0 1091.9L1777.2 1113.9L1779.4 1135.9L1782.7 1157.9L1786.0 1173.3L1791.5 1175.5L1798.1 1173.3L1802.5 1157.9L1806.9 1144.7L1813.5 1131.5L1819.0 1140.3L1824.5 1144.7L1827.8 1157.9L1830.0 1179.9L1832.2 1201.9L1834.4 1219.5L1837.7 1232.6L1843.2 1223.9L1846.5 1212.9L1849.8 1190.9L1853.1 1168.9L1856.4 1146.9L1859.7 1124.9L1863.0 1102.9L1867.4 1083.1L1871.8 1078.7L1877.3 1087.5L1881.6 1109.5L1885.0 1131.5L1888.2 1153.5L1891.5 1179.9L1895.0 1212.9L1898.1 1245.8L1902.5 1267.8L1905.8 1280.0L1908.0 1283.6L1914.6 1288.0L1923.4 1285.8L1932.2 1285.8L1941.0 1292.3L1949.8 1296.7L1955.3 1288.0L1958.6 1272.6L1960.8 1255.0L1963.0 1234.9L1966.3 1212.9L1969.6 1197.5L1972.9 1179.9L1976.2 1162.3L1981.7 1155.7L1986.1 1157.9L1991.6 1175.5L1996.0 1162.3L1999.3 1149.1L2004.8 1135.9L2011.4 1129.3L2016.9 1131.5L2020.2 1146.9L2022.4 1168.9L2024.6 1190.9L2026.8 1205.0L2031.2 1220.0L2035.6 1239.6L2038.9 1261.6L2042.2 1277.0L2046.6 1292.3L2051.0 1303.3L2054.3 1320.9L2057.6 1342.9L2062.0 1360.5L2066.4 1369.3L2073.0 1373.7L2077.3 1353.9L2079.5 1331.9L2081.7 1309.9L2085.0 1303.3L2089.4 1305.5L2095.0 1301.1L2101.0 1298.0L2104.8 1305.5L2107.6 1318.6L2110.4 1337.4L2114.1 1352.3L2117.9 1337.4L2119.8 1318.6L2123.5 1305.5L2127.3 1292.4L2129.1 1279.3L2135.7 1271.8L2142.2 1275.5L2147.0 1279.0" stroke="#D95319" stroke-dasharray="36 8 18 8"/>
</g>
<g font-family="Liberation Sans, Arial, Helvetica, sans-serif" font-size="52" fill="#262626">
<text transform="translate(159.72 73.70) scale(0.96 1)">0.2</text>
<text transform="translate(200.79 274.70) scale(0.96 1)">0</text>
<text transform="translate(143.09 475.70) scale(0.96 1)">-0.2</text>
<text transform="translate(142.04 676.70) scale(0.96 1)">-0.4</text>
<text transform="translate(171.22 921.80) scale(0.96 1)">10</text>
<text transform="translate(201.83 1078.28) scale(0.96 1)">5</text>
<text transform="translate(201.69 1234.75) scale(0.96 1)">0</text>
<text transform="translate(185.21 1391.23) scale(0.96 1)">-5</text>
<text transform="translate(154.60 1547.70) scale(0.96 1)">-10</text>
<text transform="translate(218.11 727.85) scale(0.96 1)">50</text>
<text transform="translate(218.11 1598.85) scale(0.96 1)">50</text>
<text transform="translate(598.09 727.85) scale(0.96 1)">55</text>
<text transform="translate(598.09 1598.85) scale(0.96 1)">55</text>
<text transform="translate(977.64 727.85) scale(0.96 1)">60</text>
<text transform="translate(977.64 1598.85) scale(0.96 1)">60</text>
<text transform="translate(1357.62 727.85) scale(0.96 1)">65</text>
<text transform="translate(1357.62 1598.85) scale(0.96 1)">65</text>
<text transform="translate(1737.43 727.85) scale(0.96 1)">70</text>
<text transform="translate(1737.43 1598.85) scale(0.96 1)">70</text>
<text transform="translate(2117.41 727.85) scale(0.96 1)">75</text>
<text transform="translate(2117.41 1598.85) scale(0.96 1)">75</text>
</g>
<text font-family="Liberation Serif, Times New Roman, serif" fill="#262626" stroke="#262626" stroke-width="0.9"><tspan x="1053.01" y="1683.80" font-size="85" textLength="185.64" lengthAdjust="spacingAndGlyphs">Time</tspan><tspan> </tspan><tspan x="1270.63" y="1690.90" font-size="99.9" textLength="17.35" lengthAdjust="spacingAndGlyphs">[</tspan><tspan x="1286.26" y="1683.80" font-size="80" textLength="34.55" lengthAdjust="spacingAndGlyphs">s</tspan><tspan x="1319.44" y="1690.90" font-size="99.9" textLength="18.10" lengthAdjust="spacingAndGlyphs">]</tspan></text>
<text transform="rotate(-90)" font-family="Liberation Serif, Times New Roman, serif" fill="#262626" stroke="#262626" stroke-width="0.9"><tspan x="-481.12" y="98.90" font-size="87.6" font-style="italic" textLength="55.23" lengthAdjust="spacingAndGlyphs">V</tspan><tspan x="-430.70" y="111.40" font-size="56.4" font-style="italic" textLength="24.12" lengthAdjust="spacingAndGlyphs">z</tspan><tspan> </tspan><tspan x="-367.13" y="105.00" font-size="100.2" textLength="16.30" lengthAdjust="spacingAndGlyphs">[</tspan><tspan x="-351.99" y="98.40" font-size="82" textLength="132.54" lengthAdjust="spacingAndGlyphs">ft/s</tspan><tspan x="-221.36" y="105.00" font-size="100.2" textLength="18.10" lengthAdjust="spacingAndGlyphs">]</tspan></text>
<text transform="rotate(-90)" font-family="Liberation Serif, Times New Roman, serif" fill="#262626" stroke="#262626" stroke-width="0.9"><tspan x="-1368.17" y="111.80" font-size="80.5" textLength="45.20" lengthAdjust="spacingAndGlyphs">q</tspan><tspan> </tspan><tspan x="-1292.17" y="119.30" font-size="101" textLength="16.90" lengthAdjust="spacingAndGlyphs">[</tspan><tspan x="-1275.47" y="111.80" font-size="82" textLength="196.74" lengthAdjust="spacingAndGlyphs">deg/s</tspan><tspan x="-1079.95" y="119.30" font-size="101" textLength="17.05" lengthAdjust="spacingAndGlyphs">]</tspan></text>
<rect x="838" y="826" width="683" height="162" fill="#fff" stroke="#262626" stroke-width="4" shape-rendering="crispEdges"/>
<path d="M855 870H1030" stroke="#0072BD" stroke-width="10" shape-rendering="crispEdges"/>
<path d="M855 943H1030" stroke="#D95319" stroke-width="10" stroke-dasharray="36 8 18 8" shape-rendering="crispEdges"/>
<text transform="translate(1042.23 884.60) scale(1.1363 1)" font-family="Liberation Serif, Times New Roman, serif" font-size="57" fill="#000" stroke="#000" stroke-width="0.6">Due to turbulence</text>
<text transform="translate(1042.22 957.70) scale(1.1478 1)" font-family="Liberation Serif, Times New Roman, serif" font-size="57" fill="#000" stroke="#000" stroke-width="0.6">Due to RCETI</text>
</svg></body></html>
